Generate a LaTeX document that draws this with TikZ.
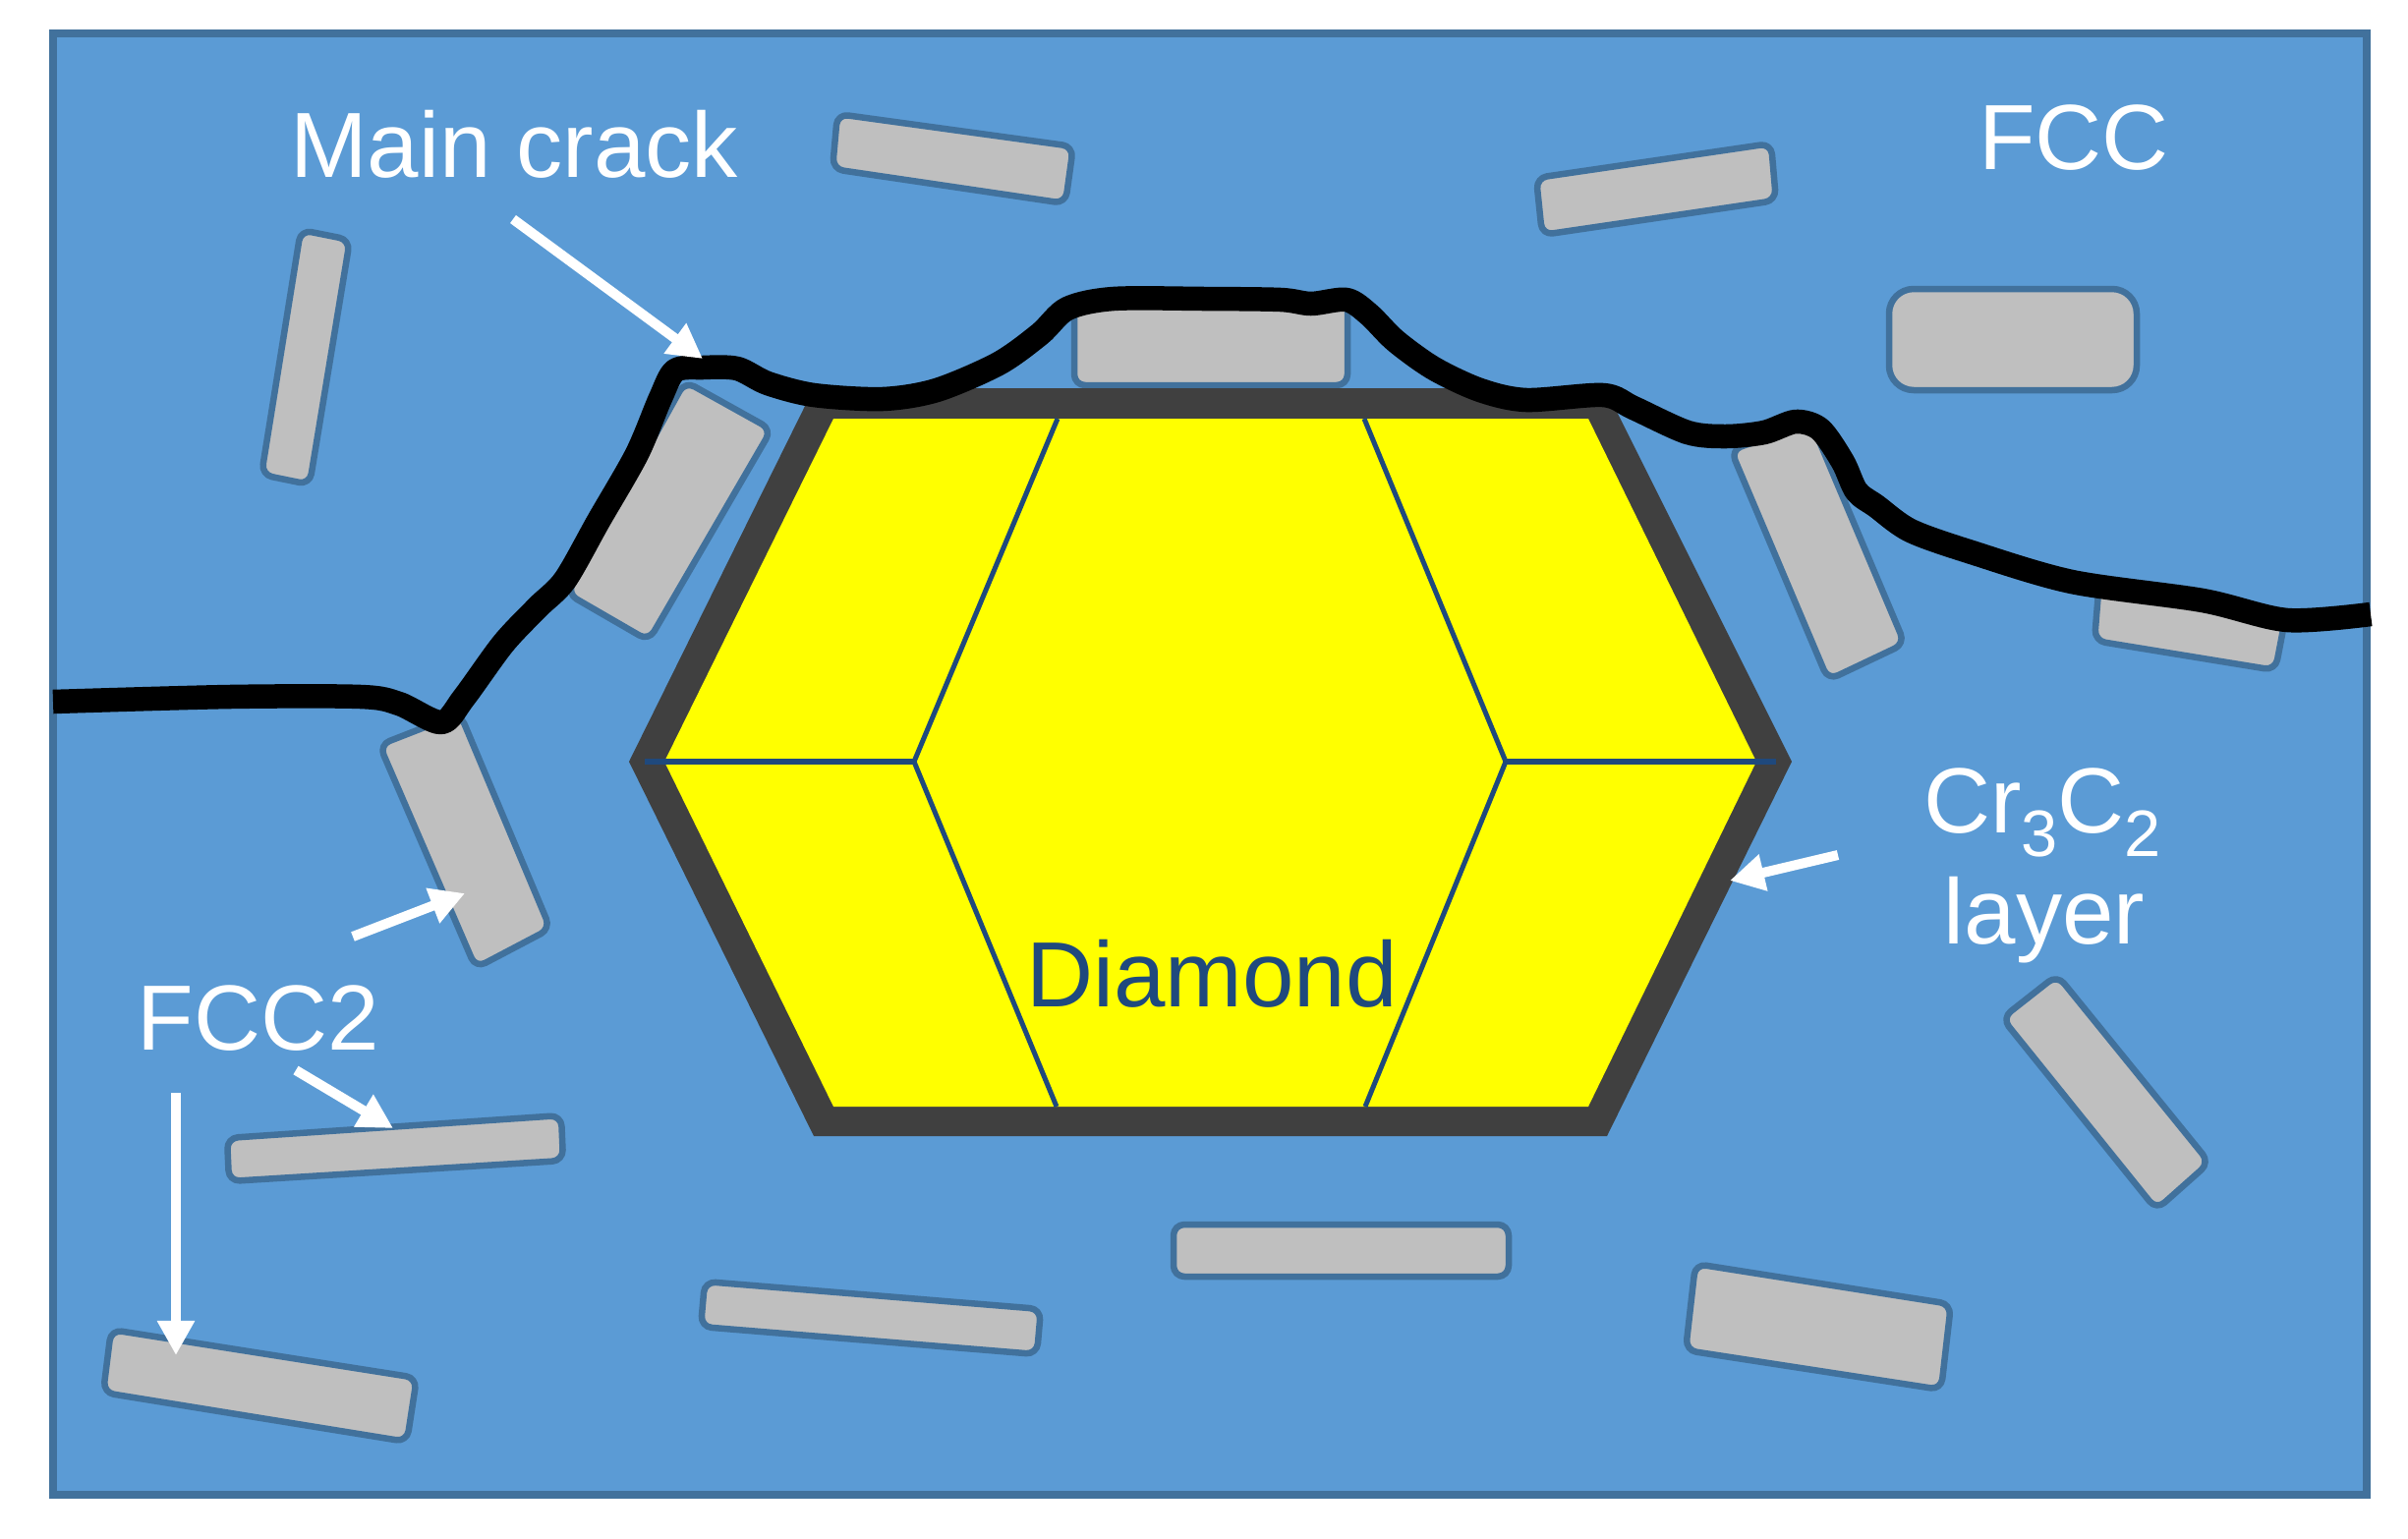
\documentclass[tikz,border=0pt]{standalone}
\usepackage{fontspec}
\setmainfont{Liberation Sans}
\usetikzlibrary{arrows.meta}
\definecolor{matrixblue}{RGB}{91,155,213}
\definecolor{edgeblue}{RGB}{65,113,156}
\definecolor{grain}{RGB}{191,191,191}
\definecolor{layerdark}{RGB}{64,64,64}
\definecolor{facetblue}{RGB}{31,73,125}
\definecolor{crystal}{RGB}{255,255,0}
\tikzset{
  grainbox/.style={fill=grain,draw=edgeblue,line width=.065cm,rounded corners=.11cm,line join=round},
  facet/.style={draw=facetblue,line width=.05cm},
  crackline/.style={draw=black,line width=.245cm,line join=round},
  pointer/.style={draw=white,line width=.1cm,-{Triangle[length=.35cm,width=.36cm,fill=white]}},
  caption/.style={text=white,anchor=base,inner sep=0pt,font=\fontsize{26.8}{32}\selectfont},
}
\begin{document}
\begin{tikzpicture}[x=0.01cm,y=-0.01cm]
\useasboundingbox (0,0) rectangle (2450,1566);
% matrix
\fill[white] (0,0) rectangle (2450,1566);
\draw[fill=matrixblue,draw=edgeblue,line width=.08cm] (54,34) rectangle (2408,1521);

% carbide grains
\draw[grainbox] (852,116)--(1092,149)--(1084,207)--(847,172)--cycle;
\draw[grainbox] (306,234)--(356,244)--(315,493)--(266,483)--cycle;
\draw[grainbox] (697,388)--(785,437)--(660,652)--(577,604)--cycle;
\draw[grainbox] (386,758)--(468,726)--(560,945)--(484,985)--cycle;
\draw[grainbox] (231,1158)--(571,1135)--(573,1181)--(233,1202)--cycle;
\draw[grainbox] (113,1353)--(424,1402)--(414,1467)--(105,1417)--cycle;
\draw[grainbox] (717,1304)--(1059,1332)--(1055,1378)--(713,1350)--cycle;
\draw[grainbox] (1194,1246)--(1535,1246)--(1535,1299)--(1194,1299)--cycle;
\draw[grainbox] (1725,1286)--(1985,1327)--(1975,1414)--(1715,1374)--cycle;
\draw[grainbox] (2093,992)--(2248,1183)--(2194,1231)--(2037,1036)--cycle;
\draw[grainbox] (1563,181)--(1802,146)--(1807,204)--(1569,239)--cycle;
\draw[grainbox,rounded corners=.25cm] (1922,294)--(2174,294)--(2174,397)--(1922,397)--cycle;
\draw[grainbox] (1761,458)--(1843,430)--(1938,655)--(1860,692)--cycle;
\draw[grainbox] (2136,590)--(2325,630)--(2315,682)--(2131,652)--cycle;
\draw[grainbox] (1093,305)--(1371,305)--(1371,392)--(1093,392)--cycle;

% diamond with its carbide layer
\fill[layerdark] (640,775)--(828,395)--(1633,395)--(1823,775)--(1635,1156)--(828,1156)--cycle;
\fill[crystal] (676,775)--(848,426)--(1616,426)--(1787,775)--(1616,1126)--(848,1126)--cycle;
\coordinate (tl) at (1076,426);
\coordinate (ml) at (930,775);
\coordinate (bl) at (1075,1126);
\coordinate (tr) at (1388,426);
\coordinate (mr) at (1532,775);
\coordinate (br) at (1389,1126);
\coordinate (el) at (656,775);
\coordinate (er) at (1807,775);
\draw[facet] (tl)--(ml)--(bl);
\draw[facet] (tr)--(mr)--(br);
\draw[facet,line width=.06cm] (el)--(ml);
\draw[facet,line width=.06cm] (mr)--(er);

% crack path
\draw[crackline] plot[smooth,tension=.5] coordinates {
 (54,714) (234,709) (367,709) (406,716) (449,735) (472,710) (512,655) (547,618)
 (575,590) (609,530) (648,462) (672,405) (687,377) (715,374) (750,375) (781,390) (828,402) (898,406)
 (953,397) (1016,370) (1058,340) (1086,314) (1133,304) (1225,304) (1303,305) (1334,309)
 (1370,305) (1393,320) (1420,347) (1459,375) (1506,397) (1553,407) (1631,402) (1662,415)
 (1717,440) (1756,444) (1795,440) (1827,429) (1852,437) (1875,470) (1889,500) (1909,515)
 (1944,540) (2006,562) (2108,592) (2241,611) (2327,631) (2412,625)};

% labels
\node[caption] (maincrack) at (523,180) {Main crack};
\node[caption] (fcc) at (2110,172) {FCC};
\node[caption] (fcctwo) at (263,1068) {FCC2};
\node[caption,text=facetblue] (diamond) at (1233,1024) {Diamond};
\node[caption] (carbide) at (2078,847) {Cr\raisebox{-.24cm}{\fontsize{19}{20}\selectfont 3}C\raisebox{-.24cm}{\fontsize{19}{20}\selectfont 2}};
\node[caption] (layer) at (2080,960) {layer};

% pointers
\coordinate (a1s) at (522,223);
\coordinate (a1e) at (715,365);
\coordinate (a2s) at (359,953);
\coordinate (a2e) at (473,909);
\coordinate (a3s) at (301,1089);
\coordinate (a3e) at (400,1148);
\coordinate (a4s) at (179,1112);
\coordinate (a4e) at (179,1379);
\coordinate (a5s) at (1870,870);
\coordinate (a5e) at (1760,896);
\draw[pointer] (a1s)--(a1e);
\draw[pointer] (a2s)--(a2e);
\draw[pointer] (a3s)--(a3e);
\draw[pointer] (a4s)--(a4e);
\draw[pointer] (a5s)--(a5e);
\end{tikzpicture}
\end{document}
